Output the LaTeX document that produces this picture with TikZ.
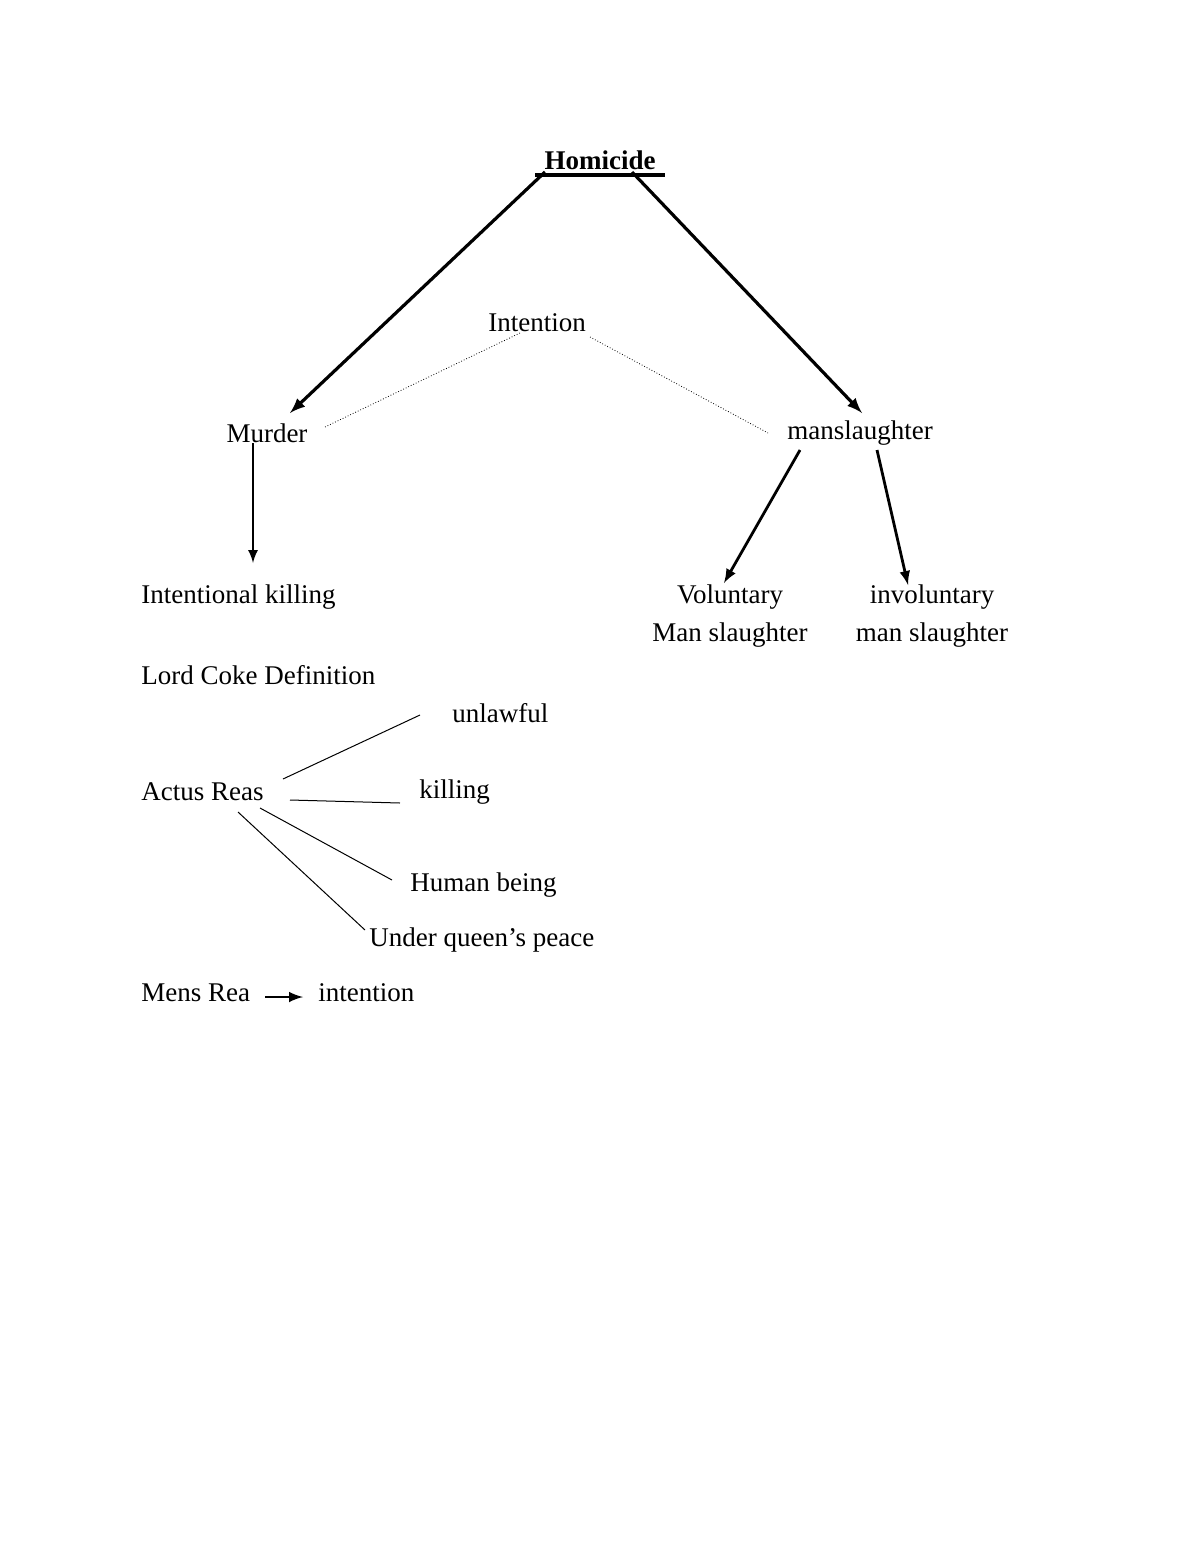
\documentclass[tikz,border=0pt]{standalone}
\usepackage{fontspec}
\setmainfont{Liberation Serif}
\begin{document}
\begin{tikzpicture}[x=0.5pt,y=-0.5pt,
  txt/.style={inner sep=0pt,font=\fontsize{13.5}{16}\selectfont},
  thick arr/.style={line width=1.6pt,-latex},
  thin/.style={line width=0.5pt},
  dot/.style={line width=0.4pt,densely dotted}]
\useasboundingbox (0,0) rectangle (1200,1553);
\node[txt,font=\fontsize{13.5}{16}\selectfont\bfseries] (hom) at (600,160) {Homicide};
\draw[line width=1.6pt] (535,175) -- (665,175);
\node[txt] (int) at (537,323) {Intention};
\node[txt] (mur) at (267,433) {Murder};
\node[txt] (man) at (860,433) {manslaughter};
\node[txt,anchor=west] (ik) at (141,597) {Intentional killing};
\node[txt,align=center] (vol) at (730,616) {Voluntary\\[3pt]Man slaughter};
\node[txt,align=center] (inv) at (932,616) {involuntary\\[3pt]man slaughter};
\node[txt,anchor=west] (lc) at (141,675) {Lord Coke Definition};
\node[txt,anchor=west] (unl) at (452,713) {unlawful};
\node[txt,anchor=west] (ar) at (141,792) {Actus Reas};
\node[txt,anchor=west] (kil) at (419,792) {killing};
\node[txt,anchor=west] (hb) at (410,885) {Human being};
\node[txt,anchor=west] (uq) at (369,940) {Under queen’s peace};
\node[txt,anchor=west] (mr) at (141,993) {Mens Rea};
\node[txt,anchor=west] (mi) at (318,993) {intention};
\coordinate (h1) at (545,172); \coordinate (h2) at (632,172);
\coordinate (m1) at (290,413); \coordinate (m2) at (862,413);
\draw[thick arr] (h1) -- (m1);
\draw[thick arr] (h2) -- (m2);
\draw[dot] (325,427) -- (520,333);
\draw[dot] (590,337) -- (768,433);
\draw[line width=1.2pt,-latex] (253,443) -- (253,563);
\draw[line width=1.4pt,-latex] (800,450) -- (724,583);
\draw[line width=1.4pt,-latex] (877,450) -- (908,585);
\draw[thin] (283,779) -- (420,715);
\draw[thin] (290,800) -- (400,803);
\draw[thin] (260,808) -- (392,880);
\draw[thin] (238,812) -- (365,930);
\draw[line width=1.4pt,-latex] (265,997) -- (303,997);
\end{tikzpicture}
\end{document}
